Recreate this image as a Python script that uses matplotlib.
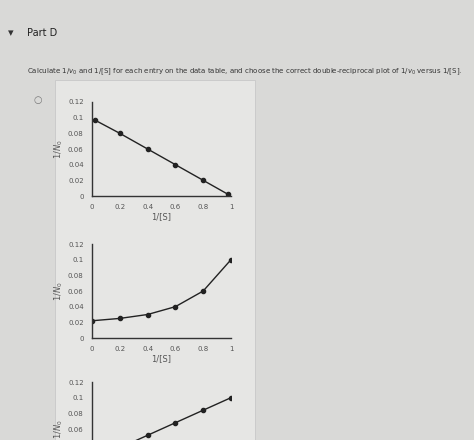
import matplotlib.pyplot as plt
from matplotlib.patches import Rectangle

# values
inv_s_a = [0.02, 0.2, 0.4, 0.6, 0.8, 0.98]
inv_v_a = [0.097, 0.080, 0.060, 0.040, 0.020, 0.002]
inv_s_b = [0.0, 0.2, 0.4, 0.6, 0.8, 1.0]
inv_v_b = [0.022, 0.025, 0.030, 0.040, 0.060, 0.100]
inv_s_c = [0.0, 0.2, 0.4, 0.6, 0.8, 1.0]
inv_v_c = [0.020, 0.036, 0.052, 0.068, 0.084, 0.100]
x_ticks = [0, 0.2, 0.4, 0.6, 0.8, 1]
y_ticks = [0, 0.02, 0.04, 0.06, 0.08, 0.1, 0.12]

W, H = 474, 440
fig = plt.figure(figsize=(W / 100, H / 100), dpi=100)
fig.patch.set_facecolor('#d9d9d7')

fig.text(8 / W, 1 - 33 / H, '\u25BE', fontsize=8, color='#333', va='center')
fig.text(27 / W, 1 - 33 / H, 'Part D', fontsize=7, color='#222', va='center')
fig.text(27 / W, 1 - 72 / H,
         'Calculate 1/$v_0$ and 1/[S] for each entry on the data table, and choose the correct '
         'double-reciprocal plot of 1/$v_0$ versus 1/[S].',
         fontsize=5, color='#333', va='center')
fig.patches.append(Rectangle((55 / W, 0), 200 / W, 1 - 80 / H, transform=fig.transFigure,
                             facecolor='#e6e6e4', edgecolor='#c8c8c8', lw=0.6, zorder=-5))
fig.text(33 / W, 1 - 100 / H, '\u25CB', fontsize=7, color='#777', va='center')


def panel(bottom_px, xs, ys, show_x=True):
    ax = fig.add_axes([92 / W, (H - bottom_px) / H, 139 / W, 94 / H])
    ax.set_facecolor('none')
    ax.plot(xs, ys, color='#222', lw=1, marker='o', ms=3)
    ax.set_xlim(0, 1.0)
    ax.set_ylim(0, 0.12)
    ax.set_xticks(x_ticks)
    ax.set_xticklabels(['0', '0.2', '0.4', '0.6', '0.8', '1'] if show_x else [])
    ax.set_yticks(y_ticks)
    ax.set_yticklabels(['0', '0.02', '0.04', '0.06', '0.08', '0.1', '0.12'])
    ax.tick_params(length=0, labelsize=5, colors='#555', pad=6)
    for s in ['top', 'right']:
        ax.spines[s].set_visible(False)
    for s in ['left', 'bottom']:
        ax.spines[s].set_color('#333')
        ax.spines[s].set_linewidth(1)
    ax.set_ylabel('1/$N_0$', fontsize=6, color='#555', labelpad=2)
    if show_x:
        ax.set_xlabel('1/[S]', fontsize=6, color='#555', labelpad=1)
    return ax


panel(196, inv_s_a, inv_v_a)
panel(338, inv_s_b, inv_v_b)
panel(476, inv_s_c, inv_v_c, show_x=False)

fig.savefig('out.png', dpi=100, facecolor=fig.get_facecolor())
